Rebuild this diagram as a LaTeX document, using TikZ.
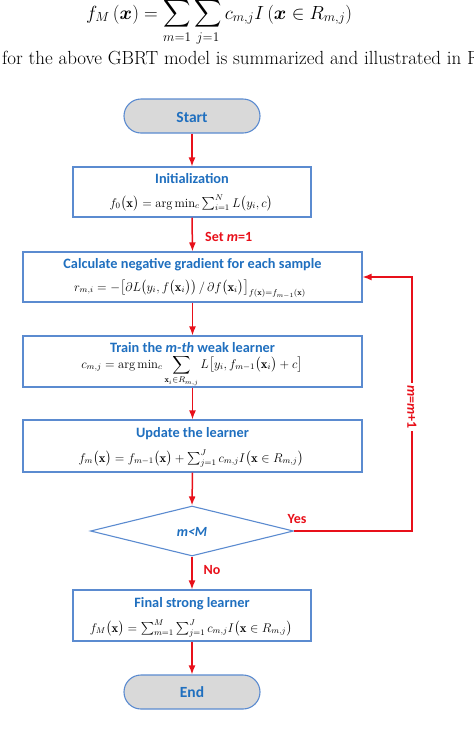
\documentclass[tikz,border=0pt]{standalone}
\usepackage{amsmath,bm}
\usepackage{fontspec}
\newfontfamily\carl{Carlito}
\usetikzlibrary{shapes.geometric,arrows.meta}
\definecolor{bordblue}{HTML}{5B8BD0}
\definecolor{txtblue}{HTML}{1F6FBF}
\definecolor{arrred}{HTML}{E8101A}
\definecolor{boxgray}{HTML}{D9D9D9}
\tikzset{
  procbox/.style={draw=bordblue,line width=1.1pt,fill=white,inner sep=0pt},
  termbox/.style={draw=bordblue,line width=1.1pt,fill=boxgray,inner sep=0pt,
    minimum width=136pt,minimum height=34pt,rounded corners=17pt},
  decbox/.style={diamond,draw=bordblue,line width=1.1pt,inner sep=0pt,aspect=4.06,
    minimum width=203pt,minimum height=50pt},
  ttl/.style={inner sep=0pt,anchor=base,text=txtblue,font=\carl\bfseries\fontsize{14.3}{16}\selectfont},
  termtxt/.style={inner sep=0pt,anchor=base,text=txtblue,font=\carl\bfseries\fontsize{15.5}{18}\selectfont},
  fml/.style={inner sep=0pt,anchor=base,font=\large,scale=1.05,transform shape},
  redarr/.style={draw=arrred,line width=1.5pt,-{Latex[length=9pt,width=7pt]}},
  redlab/.style={inner sep=0pt,text=arrred,font=\carl\bfseries\fontsize{14}{16}\selectfont},
  pagetext/.style={inner sep=0pt,anchor=base west,font=\LARGE,scale=1.1,transform shape},
}
\begin{document}
\begin{tikzpicture}[x=1pt,y=-1pt]
\useasboundingbox (0,0) rectangle (474,732);
\clip (0,0) rectangle (474,732);
% page text
\node[pagetext] (pagef) at (86,19)
  {$\displaystyle f_M\left(\bm{x}\right)=\sum_{m=1}^{M}\sum_{j=1}^{J}c_{m,j}I\left(\bm{x}\in R_{m,j}\right)$};
\node[pagetext] (pagetxt) at (2,64)
  {for the above GBRT model is summarized and illustrated in Fig.};
% terminals
\node[termbox] (start) at (192,116) {};
\node[termtxt] (starttxt) at (192,122) {Start};
\node[termbox] (end) at (192,692) {};
\node[termtxt] (endtxt) at (192,697) {End};
% boxes
\node[procbox,minimum width=238pt,minimum height=50pt] (init) at (192,192) {};
\node[ttl] (initt) at (192,183) {Initialization};
\node[fml] (initf) at (191,207) {$f_0\bigl(\mathbf{x}\bigr)=\arg\min\nolimits_c\sum\nolimits_{i=1}^{N}L\bigl(y_i,c\bigr)$};

\node[procbox,minimum width=339pt,minimum height=50pt] (grad) at (192.5,277) {};
\node[ttl] (gradt) at (192.5,268) {Calculate negative gradient for each sample};
\node[fml] (gradf) at (190,291) {$r_{m,i}=-\bigl[\partial L\bigl(y_i,f\bigl(\mathbf{x}_i\bigr)\bigr)\,/\,\partial f\bigl(\mathbf{x}_i\bigr)\bigr]_{f(\mathbf{x})=f_{m-1}(\mathbf{x})}$};

\node[procbox,minimum width=339pt,minimum height=51pt] (train) at (192.5,361.5) {};
\node[ttl] (traint) at (192.5,352) {Train the \textit{m-th} weak learner};
\node[fml] (trainf) at (192,368) {$c_{m,j}=\arg\min\nolimits_c\displaystyle\sum_{\mathbf{x}_i\in R_{m,j}}L\bigl[y_i,f_{m-1}\bigl(\mathbf{x}_i\bigr)+c\bigr]$};

\node[procbox,minimum width=339pt,minimum height=52pt] (upd) at (192.5,446) {};
\node[ttl] (updt) at (192.5,437) {Update the learner};
\node[fml] (updf) at (191,462) {$f_m\bigl(\mathbf{x}\bigr)=f_{m-1}\bigl(\mathbf{x}\bigr)+\sum\nolimits_{j=1}^{J}c_{m,j}I\bigl(\mathbf{x}\in R_{m,j}\bigr)$};

\node[decbox] (dec) at (192,531) {};
\node[ttl,font=\carl\bfseries\itshape\fontsize{14}{16}\selectfont] (dect) at (192,536) {m<M};

\node[procbox,minimum width=238pt,minimum height=51pt] (fin) at (192,615.5) {};
\node[ttl] (fint) at (192,607) {Final strong learner};
\node[fml] (finf) at (191,632) {$f_M\bigl(\mathbf{x}\bigr)=\sum\nolimits_{m=1}^{M}\sum\nolimits_{j=1}^{J}c_{m,j}I\bigl(\mathbf{x}\in R_{m,j}\bigr)$};

% connectors
\draw[redarr] (start.south) -- (init.north);
\draw[redarr] (init.south) -- (grad.north);
\draw[redarr] (grad.south) -- (train.north);
\draw[redarr] (train.south) -- (upd.north);
\draw[redarr] (upd.south) -- (dec.north);
\draw[redarr] (dec.south) -- (fin.north);
\draw[redarr] (fin.south) -- (end.north);
\coordinate (loopc) at (412,531);
\draw[redarr] (dec.east) -- (loopc) |- (grad.east);
% labels
\node[redlab,anchor=west] (setm) at (205,237) {Set \textit{m}=1};
\node[redlab] (yes) at (297,519) {Yes};
\node[redlab] (no) at (212,570) {No};
\node[redlab,fill=white,inner sep=2pt,rotate=-90] (mm) at (412,407) {\textit{m}=\textit{m}+1};
\end{tikzpicture}
\end{document}
